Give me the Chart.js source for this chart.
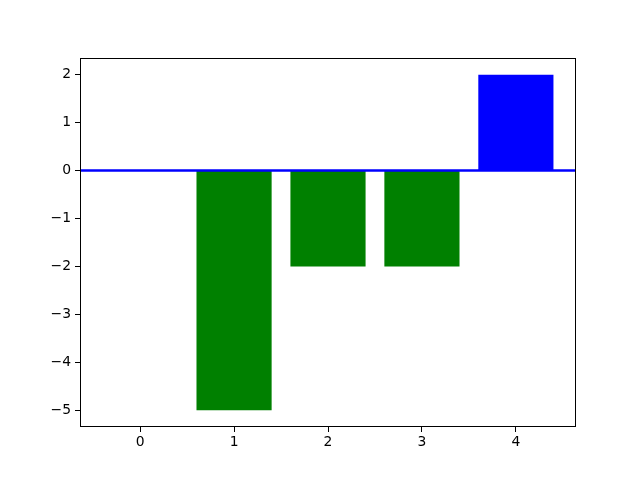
<!DOCTYPE html>
<html>
<head>
<meta charset="utf-8">
<script src="https://cdn.jsdelivr.net/npm/chart.js@4/dist/chart.umd.min.js"></script>
<style>
  body { margin: 0; background: #fff; }
</style>
</head>
<body>
<canvas id="chart" width="640" height="480"></canvas>
<script>
// data
const categories = [0, 1, 2, 3, 4];
const values = [0, -5, -2, -2, 2];
const xTicks = [0, 1, 2, 3, 4];
const yTicks = [-5, -4, -3, -2, -1, 0, 1, 2];
const zeroLineX = [-0.64, 4.64];

const minus = (v) => String(v).replace('-', '\u2212');

// frame around the plot area, like matplotlib spines
const framePlugin = {
  id: 'frame',
  afterDraw(chart) {
    const { ctx, chartArea: a } = chart;
    ctx.save();
    ctx.strokeStyle = '#000';
    ctx.lineWidth = 1;
    ctx.strokeRect(a.left + 0.5, a.top + 0.5, a.right - a.left - 1, a.bottom - a.top - 1);
    ctx.restore();
  },
};

const tickFont = { family: 'DejaVu Sans', size: 13.9 };

new Chart(document.getElementById('chart').getContext('2d'), {
  data: {
    datasets: [
      {
        type: 'bar',
        data: categories.map((c, i) => ({ x: c, y: values[i] })),
        backgroundColor: values.map((v) => (v > 0 ? '#0000ff' : '#008000')),
        barPercentage: 0.8,
        categoryPercentage: 1.0,
        order: 2,
      },
      {
        type: 'line',
        data: zeroLineX.map((x) => ({ x: x, y: 0 })),
        borderColor: '#0000ff',
        borderWidth: 2.5,
        pointRadius: 0,
        order: 1,
      },
    ],
  },
  options: {
    responsive: false,
    devicePixelRatio: 1,
    animation: false,
    layout: { padding: { left: 0, right: 64, top: 58, bottom: 0 } },
    plugins: { legend: { display: false }, tooltip: { enabled: false } },
    scales: {
      x: {
        type: 'linear',
        min: -0.64,
        max: 4.64,
        offset: false,
        afterBuildTicks: (scale) => { scale.ticks = xTicks.map((v) => ({ value: v })); },
        afterFit: (scale) => { scale.height = 53; },
        ticks: { color: '#000', font: tickFont, padding: 2, callback: (v) => minus(v) },
        grid: { offset: false, drawOnChartArea: false, drawTicks: true, tickLength: 5, tickColor: '#000' },
        border: { display: false },
      },
      y: {
        type: 'linear',
        min: -5.35,
        max: 2.35,
        afterBuildTicks: (scale) => { scale.ticks = yTicks.map((v) => ({ value: v })); },
        afterFit: (scale) => { scale.width = 80; },
        ticks: { color: '#000', font: tickFont, padding: 4, callback: (v) => minus(v) },
        grid: { drawOnChartArea: false, drawTicks: true, tickLength: 5, tickColor: '#000' },
        border: { display: false },
      },
    },
  },
  plugins: [framePlugin],
});
</script>
</body>
</html>
